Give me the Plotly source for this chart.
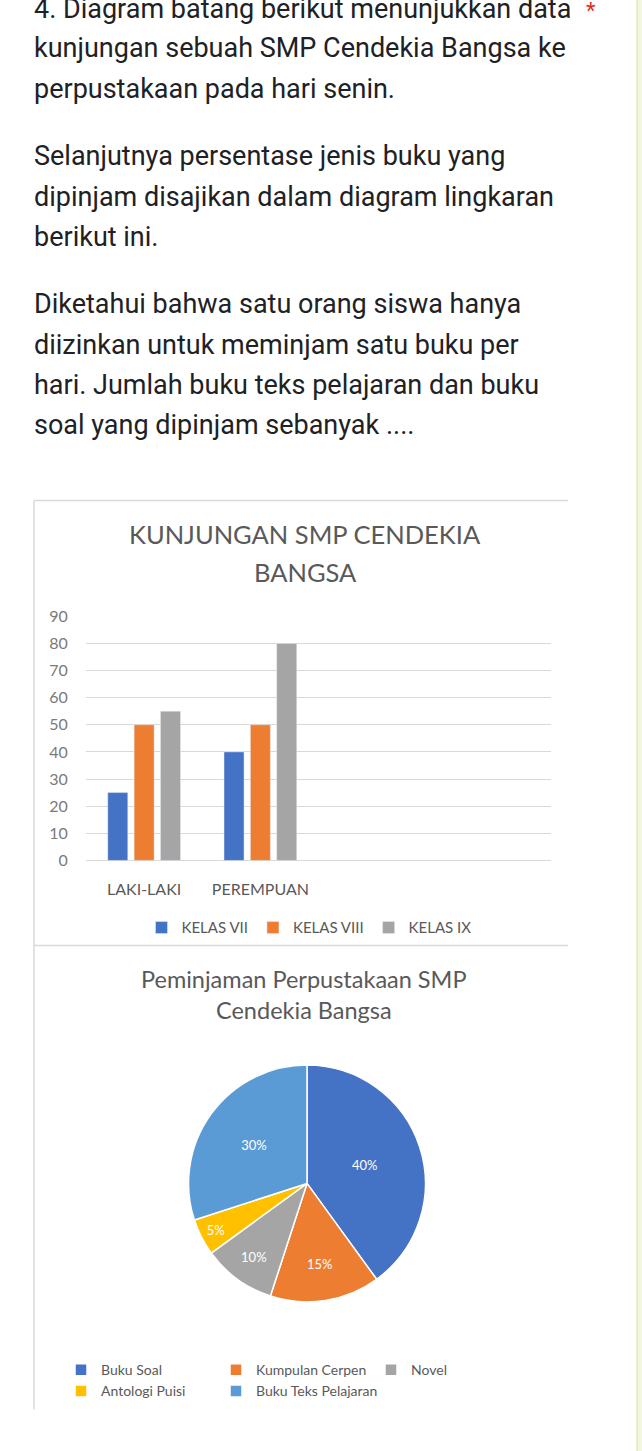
import plotly.graph_objects as go

# teks soal (tiga paragraf)
paragraf = [
    ["4. Diagram batang berikut menunjukkan data",
     "kunjungan sebuah SMP Cendekia Bangsa ke",
     "perpustakaan pada hari senin."],
    ["Selanjutnya persentase jenis buku yang",
     "dipinjam disajikan dalam diagram lingkaran",
     "berikut ini."],
    ["Diketahui bahwa satu orang siswa hanya",
     "diizinkan untuk meminjam satu buku per",
     "hari. Jumlah buku teks pelajaran dan buku",
     "soal yang dipinjam sebanyak ...."],
]

# diagram batang
kategori = ["LAKI-LAKI", "PEREMPUAN"]
kelas = ["KELAS VII", "KELAS VIII", "KELAS IX"]
kelas_vii = [25, 40]
kelas_viii = [50, 50]
kelas_ix = [55, 80]
warna_kelas = ["#4472C4", "#ED7D31", "#A5A5A5"]

# diagram lingkaran
jenis_buku = ["Buku Soal", "Kumpulan Cerpen", "Novel", "Antologi Puisi", "Buku Teks Pelajaran"]
persen = [40, 15, 10, 5, 30]
warna_buku = ["#4472C4", "#ED7D31", "#A5A5A5", "#FFC000", "#5B9BD5"]

W, H = 642, 1451
R = 50
PW = W - R  # lebar area plot (legend kedua dibungkus per 3 item)


def px(x):
    return x / PW


def py(y):
    return 1 - y / H


fig = go.Figure()
for nama, nilai, warna in zip(kelas, [kelas_vii, kelas_viii, kelas_ix], warna_kelas):
    fig.add_trace(go.Bar(x=kategori, y=nilai, name=nama, marker_color=warna,
                         legend="legend"))

fig.add_trace(go.Pie(labels=jenis_buku, values=persen, sort=False, direction="clockwise",
                     rotation=0, marker=dict(colors=warna_buku, line=dict(color="white", width=1.5)),
                     texttemplate="%{percent:.0%}", textposition="inside",
                     insidetextorientation="horizontal",
                     textfont=dict(family="Lato", size=13, color="white"),
                     domain=dict(x=[px(187), px(427)], y=[py(1309), py(1069)]),
                     legend="legend2"))

ann = []
i = 0
for p, baris in enumerate(paragraf):
    for t in baris:
        yy = -2 + 41 * i + 27 * p + (1 if i == 0 else 0)
        ann.append(dict(text=t, x=px(32), y=py(yy), xref="paper", yref="paper",
                        xanchor="left", yanchor="middle", showarrow=False,
                        font=dict(family="Roboto", size=27, color="#202124")))
        i += 1
ann.append(dict(text="*", x=px(591), y=py(1), xref="paper", yref="paper", showarrow=False,
                xanchor="center", yanchor="middle", font=dict(family="Roboto", size=22, color="#d93025")))

judul_abu = "#595959"
angka_abu = "#7a7a7a"
for t, yy in [("KUNJUNGAN SMP CENDEKIA", 531), ("BANGSA", 569)]:
    ann.append(dict(text=t, x=px(305), y=py(yy), xref="paper", yref="paper", showarrow=False,
                    xanchor="center", yanchor="middle", font=dict(family="Lato", size=25.5, color=judul_abu)))
for t, yy in [("Peminjaman Perpustakaan SMP", 982), ("Cendekia Bangsa", 1013)]:
    ann.append(dict(text=t, x=px(304), y=py(yy), xref="paper", yref="paper", showarrow=False,
                    xanchor="center", yanchor="middle", font=dict(family="Lato", size=23.5, color=judul_abu)))

garis = "#d9d9d9"
shapes = [
    dict(type="line", xref="paper", yref="paper", x0=px(34), x1=px(568), y0=py(497), y1=py(497),
         line=dict(color=garis, width=1.5)),
    dict(type="line", xref="paper", yref="paper", x0=px(34), x1=px(568), y0=py(948), y1=py(948),
         line=dict(color=garis, width=1.5)),
    dict(type="line", xref="paper", yref="paper", x0=px(34), x1=px(34), y0=py(497), y1=py(1418),
         line=dict(color=garis, width=1.5)),
    dict(type="rect", xref="paper", yref="paper", x0=px(637), x1=px(645), y0=-0.1, y1=1.1,
         fillcolor="#f3f7e2", line=dict(width=0)),
    dict(type="line", xref="paper", yref="paper", x0=px(637), x1=px(637), y0=-0.1, y1=1.1,
         line=dict(color="#dde8bd", width=1.5)),
]

fig.update_layout(
    width=W, height=H, margin=dict(l=0, r=R, t=0, b=0),
    paper_bgcolor="white", plot_bgcolor="white",
    barmode="group", bargap=0.32, bargroupgap=0.24,
    annotations=ann, shapes=shapes,
    xaxis=dict(domain=[px(86), px(551)], type="category", range=[-0.5, 3.5],
               showgrid=False, zeroline=False, showline=False,
               ticks="outside", ticklen=14, tickcolor="rgba(0,0,0,0)",
               tickfont=dict(family="Lato", size=16, color=judul_abu)),
    yaxis=dict(domain=[py(861.7), py(614.3)], range=[0, 90], dtick=10,
               gridcolor=garis, gridwidth=1.3, zeroline=True, zerolinecolor=garis, zerolinewidth=1.3,
               showline=False, ticks="outside", ticklen=14, tickcolor="rgba(0,0,0,0)",
               tickfont=dict(family="Lato", size=16, color=angka_abu)),
    legend=dict(orientation="h", x=px(309), xanchor="center", y=py(930), yanchor="middle",
                font=dict(family="Lato", size=15, color=judul_abu)),
    legend2=dict(orientation="h", x=px(61), xanchor="left", y=py(1362), yanchor="top",
                 entrywidth=110, font=dict(family="Lato", size=14, color=judul_abu)),
    showlegend=True,
)

# buang margin bawaan <body> supaya gambar pas dengan jendela
fig.write_html("out.html", config={"displayModeBar": False},
               post_script="document.body.style.margin='0px';document.body.style.overflow='hidden';")
